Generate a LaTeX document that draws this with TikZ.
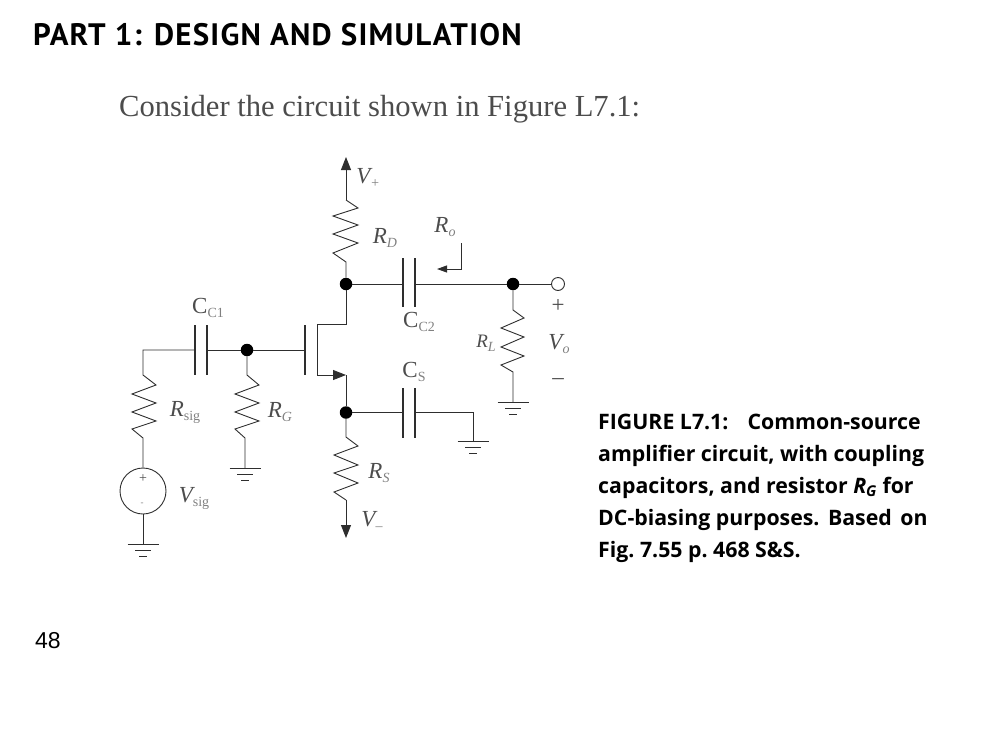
\documentclass[tikz,border=0pt]{standalone}
\usepackage{fontspec}
\setmainfont{Liberation Serif}
\newfontfamily\titlefont[LetterSpace=4]{PT Sans}
\newfontfamily\capfont{Open Sans}
\newfontfamily\numfont{Liberation Sans}
\usetikzlibrary{arrows.meta}
\definecolor{ink}{gray}{0.18}
\definecolor{softink}{gray}{0.3}
\definecolor{faint}{gray}{0.5}
\newcommand{\lab}[2]{{\itshape #1}\raisebox{-4pt}{\fontsize{14}{14}\selectfont\itshape\color{faint}#2}}
\newcommand{\labup}[2]{{\itshape #1}\raisebox{-4pt}{\fontsize{14}{14}\selectfont\color{faint}#2}}
\newcommand{\capl}[2]{#1\raisebox{-4pt}{\fontsize{14}{14}\selectfont\color{faint}#2}}
\tikzset{
  x=1pt,y=-1pt,
  wire/.style={draw=ink,line width=0.9pt,line join=miter},
  plate/.style={draw=ink,line width=1.1pt},
  power/.style={wire,-{Triangle[length=13pt,width=10pt]}},
  probe/.style={wire,-{Triangle[length=10pt,width=7pt]}},
  junction/.style={circle,fill=black,inner sep=0pt,minimum size=12.5pt},
  opencirc/.style={circle,draw=ink,line width=0.9pt,fill=white,inner sep=0pt,minimum size=13pt},
  source/.style={circle,draw=ink,line width=0.9pt,inner sep=0pt,minimum size=46pt},
  lbl/.style={inner sep=0pt,text=softink,font=\fontsize{23}{26}\selectfont},
  caption/.style={inner sep=0pt,anchor=base west,text=black,font=\capfont\bfseries\frenchspacing\fontsize{21.3}{25}\selectfont},
}
\begin{document}
\begin{tikzpicture}
\useasboundingbox (0,0) rectangle (1008,742);
\node[inner sep=0pt,anchor=base west,font=\titlefont\bfseries\fontsize{31}{34}\selectfont] (title) at (33,45) {PART 1: DESIGN AND SIMULATION};
\node[inner sep=0pt,anchor=base west,text=softink,font=\fontsize{30.6}{34}\selectfont] (intro) at (119,116.5) {Consider the circuit shown in Figure L7.1:};
\node[inner sep=0pt,anchor=base west,font=\numfont\fontsize{23}{26}\selectfont] (page) at (35,648) {48};
\node[caption] (c1) at (598,429.5) {FIGURE L7.1:\ \ \hspace{8pt}Common-source};
\node[caption] (c2) at (598,461) {amplifier circuit, with coupling};
\node[caption] (c3) at (598,493) {capacitors, and resistor {\itshape R\textsubscript{G}} for};
\node[caption] (c4) at (598,525) {DC-biasing purposes.\hspace{3pt} Based\hspace{3pt} on};
\node[caption] (c5) at (598,557) {Fig. 7.55 p. 468 S\&S.};

% named points
\coordinate (vplus) at (346,157);
\coordinate (rdtop) at (346,200);
\coordinate (rdbot) at (346,262);
\node[junction] (drain) at (346,284) {};
\coordinate (dcorner) at (346,324);
\coordinate (dch) at (317,324);
\coordinate (sch) at (317,375);
\coordinate (score) at (346,375);
\node[junction] (src) at (346,412.5) {};
\coordinate (rstop) at (346,437);
\coordinate (rsbot) at (346,500);
\coordinate (vminus) at (346,538);
\coordinate (gplate) at (305,350);
\node[junction] (gate) at (247,350) {};
\coordinate (c1r) at (207,350);
\coordinate (c1l) at (195,350);
\coordinate (lcorner) at (143,350);
\coordinate (rsigtop) at (143,375);
\coordinate (rsigbot) at (143,438);
\node[source] (vs) at (143,491) {};
\coordinate (gnda) at (143,544);
\coordinate (rgtop) at (247,375);
\coordinate (rgbot) at (245,438);
\coordinate (gndb) at (245,468);
\coordinate (c2l) at (403,284);
\coordinate (c2r) at (415,284);
\node[junction] (out) at (513,284) {};
\node[opencirc] (vo) at (558,284) {};
\coordinate (rltop) at (513,310);
\coordinate (rlbot) at (513,372);
\coordinate (gndc) at (513,402);
\coordinate (csl) at (403,412.5);
\coordinate (csr) at (415,412.5);
\coordinate (cscorner) at (473,412.5);
\coordinate (gndd) at (473,441);
\coordinate (rotop) at (461,243);
\coordinate (rocorner) at (461,269);
\coordinate (rotip) at (437,269);

% supplies and resistors
\draw[power] (rdtop) -- (vplus);
\draw[wire] (rdtop) -- (358,208) -- (333,216) -- (358,225) -- (333,234) -- (358,243) -- (333,253) -- (rdbot) -- (drain);
\draw[wire] (drain) -- (dcorner) -- (dch) -- (sch);
\draw[power] (sch) -- (score);
\draw[wire] (score) -- (src);
\draw[wire] (src) -- (rstop) -- (358,446) -- (334,455) -- (358,465) -- (334,473) -- (358,483) -- (334,492) -- (rsbot);
\draw[power] (rsbot) -- (vminus);
% gate
\draw[plate] (305,325) -- (305,375);
\draw[wire] (gplate) -- (gate) -- (c1r);
\draw[plate] (207,325) -- (207,375);
\draw[plate] (195,325) -- (195,375);
\draw[wire] (c1l) -- (lcorner) -- (rsigtop) -- (156,385) -- (132,394) -- (156,403) -- (132,412) -- (156,421) -- (132,429) -- (rsigbot) -- (vs);
\draw[wire] (vs) -- (gnda);
\draw[wire] (gate) -- (rgtop) -- (259,385) -- (235,394) -- (259,403) -- (235,412) -- (259,421) -- (235,429) -- (rgbot) -- (gndb);
% output
\draw[wire] (drain) -- (c2l);
\draw[plate] (403,258) -- (403,307);
\draw[plate] (415,258) -- (415,307);
\draw[wire] (c2r) -- (out) -- (vo);
\draw[wire] (out) -- (rltop) -- (524,318) -- (501,328) -- (524,337) -- (501,347) -- (524,356) -- (501,365) -- (rlbot) -- (gndc);
% bypass
\draw[wire] (src) -- (csl);
\draw[plate] (403,388) -- (403,438);
\draw[plate] (415,388) -- (415,438);
\draw[wire] (csr) -- (cscorner) -- (gndd);
% grounds
\foreach \g in {gnda,gndb,gndc,gndd}{
  \draw[wire] ([xshift=-15.5pt]\g) -- ([xshift=15.5pt]\g);
  \draw[wire] ([xshift=-8pt,yshift=-6pt]\g) -- ([xshift=8pt,yshift=-6pt]\g);
  \draw[wire] ([xshift=-4pt,yshift=-12pt]\g) -- ([xshift=4pt,yshift=-12pt]\g);
}
% Ro probe
\draw[probe] (rotop) -- (rocorner) -- (rotip);
% source signs
\node[lbl,font=\fontsize{14}{14}\selectfont] (vsplus) at (143,479) {+};
\node[lbl,text=faint,font=\fontsize{9}{9}\selectfont] (vsminus) at (142,504) {-};

% labels
\node[lbl] (lvp) at (368,178) {\lab{V}{+}};
\node[lbl] (lrd) at (385,238) {\lab{R}{D}};
\node[lbl] (lro) at (445,227) {\lab{R}{o}};
\node[lbl] (lc1) at (208,308) {\capl{C}{C1}};
\node[lbl] (lc2) at (419,322) {\capl{C}{C2}};
\node[lbl] (lcs) at (414,372) {\capl{C}{S}};
\node[lbl,font=\fontsize{19}{22}\selectfont] (lrl) at (486,343) {\lab{R}{L}};
\node[lbl] (lvo) at (559,344) {\lab{V}{o}};
\node[lbl] (lplus) at (558,306) {+};
\node[lbl] (lminus) at (558,382) {–};
\node[lbl] (lrsig) at (185,412) {\labup{R}{sig}};
\node[lbl] (lrg) at (280,412) {\lab{R}{G}};
\node[lbl] (lrs) at (379,473) {\lab{R}{S}};
\node[lbl] (lvsig) at (194,498) {\labup{V}{sig}};
\node[lbl] (lvm) at (372,521) {\lab{V}{–}};
\end{tikzpicture}
\end{document}
